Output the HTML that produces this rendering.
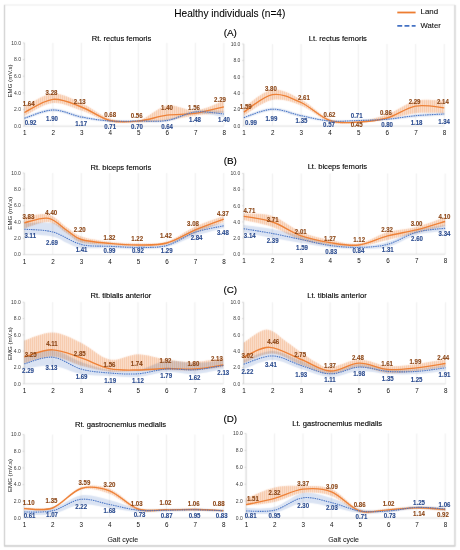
<!DOCTYPE html>
<html><head><meta charset="utf-8"><style>
html,body{margin:0;padding:0;background:#fff;width:460px;height:550px;overflow:hidden}
svg{display:block;font-family:"Liberation Sans",sans-serif;will-change:transform}
.dl{font-size:6.1px;font-weight:bold;text-anchor:middle;stroke-width:0.1px;transform-box:fill-box;transform-origin:center;transform:scaleY(1.18)}
</style></head><body>
<svg width="460" height="550" viewBox="0 0 460 550">
<defs><filter id="bl" x="0" y="0" width="460" height="550" filterUnits="userSpaceOnUse"><feConvolveMatrix order="3" kernelMatrix="1 2 1 2 14 2 1 2 1" divisor="26" edgeMode="duplicate"/></filter><pattern id="st" width="2" height="4" patternUnits="userSpaceOnUse"><rect width="2" height="4" fill="#FCE6D7"/><rect width="1" height="4" fill="#F5BF99"/></pattern></defs><g filter="url(#bl)"><rect width="460" height="550" fill="#fff"/><rect x="4.5" y="5" width="450" height="540.5" fill="none" stroke="#ececec" stroke-width="1"/>
<line x1="4.5" y1="5" x2="4.5" y2="546" stroke="#c4c4c4" stroke-width="1.1"/>
<line x1="4" y1="546" x2="455.5" y2="546" stroke="#c8c8c8" stroke-width="1.3"/>
<line x1="455" y1="5" x2="455" y2="546" stroke="#d6d6d6" stroke-width="1.6"/>
<line x1="52.9" y1="42.9" x2="52.9" y2="126.2" stroke="#ebebeb" stroke-width="0.9"/>
<line x1="81.4" y1="42.9" x2="81.4" y2="126.2" stroke="#ebebeb" stroke-width="0.9"/>
<line x1="109.9" y1="42.9" x2="109.9" y2="126.2" stroke="#ebebeb" stroke-width="0.9"/>
<line x1="138.4" y1="42.9" x2="138.4" y2="126.2" stroke="#ebebeb" stroke-width="0.9"/>
<line x1="166.9" y1="42.9" x2="166.9" y2="126.2" stroke="#ebebeb" stroke-width="0.9"/>
<line x1="195.4" y1="42.9" x2="195.4" y2="126.2" stroke="#ebebeb" stroke-width="0.9"/>
<line x1="223.9" y1="42.9" x2="223.9" y2="126.2" stroke="#ebebeb" stroke-width="0.9"/>
<line x1="24.4" y1="126.2" x2="223.9" y2="126.2" stroke="#d9d9d9" stroke-width="0.9"/>
<line x1="24.4" y1="42.9" x2="24.4" y2="126.2" stroke="#c8c8c8" stroke-width="0.9"/>
<line x1="22.9" y1="126.2" x2="24.4" y2="126.2" stroke="#c8c8c8" stroke-width="0.8"/>
<line x1="22.9" y1="109.54" x2="24.4" y2="109.54" stroke="#c8c8c8" stroke-width="0.8"/>
<line x1="22.9" y1="92.88" x2="24.4" y2="92.88" stroke="#c8c8c8" stroke-width="0.8"/>
<line x1="22.9" y1="76.22" x2="24.4" y2="76.22" stroke="#c8c8c8" stroke-width="0.8"/>
<line x1="22.9" y1="59.56" x2="24.4" y2="59.56" stroke="#c8c8c8" stroke-width="0.8"/>
<line x1="22.9" y1="42.9" x2="24.4" y2="42.9" stroke="#c8c8c8" stroke-width="0.8"/>
<path d="M24.4 116.8C29.15 115.42 43.4 108.72 52.9 108.5C62.4 108.28 71.9 113.58 81.4 115.5C90.9 117.42 100.4 119.25 109.9 120C119.4 120.75 128.9 120.12 138.4 120C147.9 119.88 157.4 120.88 166.9 119.3C176.4 117.72 185.9 111.88 195.4 110.5C204.9 109.12 219.15 110.92 223.9 111L223.9 117C219.15 116.42 204.9 112.72 195.4 113.5C185.9 114.28 176.4 120.28 166.9 121.7C157.4 123.12 147.9 121.95 138.4 122C128.9 122.05 119.4 122.58 109.9 122C100.4 121.42 90.9 120.25 81.4 118.5C71.9 116.75 62.4 111.28 52.9 111.5C43.4 111.72 29.15 118.42 24.4 119.8Z" fill="#DAE3F3" style="mix-blend-mode:multiply"/>
<path d="M24.4 106.5C29.15 104.33 43.4 94.08 52.9 93.5C62.4 92.92 71.9 98.83 81.4 103C90.9 107.17 100.4 115.58 109.9 118.5C119.4 121.42 128.9 122.65 138.4 120.5C147.9 118.35 157.4 107.27 166.9 105.6C176.4 103.93 185.9 111.3 195.4 110.5C204.9 109.7 219.15 102.42 223.9 100.8L223.9 112.8C219.15 113.25 204.9 114.22 195.4 115.5C185.9 116.78 176.4 119.33 166.9 120.5C157.4 121.67 147.9 122.25 138.4 122.5C128.9 122.75 119.4 124 109.9 122C100.4 120 90.9 113.67 81.4 110.5C71.9 107.33 62.4 102.08 52.9 103C43.4 103.92 29.15 113.83 24.4 116Z" fill="url(#st)" style="mix-blend-mode:multiply"/>
<line x1="272.44" y1="44" x2="272.44" y2="126.1" stroke="#ebebeb" stroke-width="0.9"/>
<line x1="301.08" y1="44" x2="301.08" y2="126.1" stroke="#ebebeb" stroke-width="0.9"/>
<line x1="329.72" y1="44" x2="329.72" y2="126.1" stroke="#ebebeb" stroke-width="0.9"/>
<line x1="358.36" y1="44" x2="358.36" y2="126.1" stroke="#ebebeb" stroke-width="0.9"/>
<line x1="387" y1="44" x2="387" y2="126.1" stroke="#ebebeb" stroke-width="0.9"/>
<line x1="415.64" y1="44" x2="415.64" y2="126.1" stroke="#ebebeb" stroke-width="0.9"/>
<line x1="444.28" y1="44" x2="444.28" y2="126.1" stroke="#ebebeb" stroke-width="0.9"/>
<line x1="243.8" y1="126.1" x2="444.28" y2="126.1" stroke="#d9d9d9" stroke-width="0.9"/>
<line x1="243.8" y1="44" x2="243.8" y2="126.1" stroke="#c8c8c8" stroke-width="0.9"/>
<line x1="242.3" y1="126.1" x2="243.8" y2="126.1" stroke="#c8c8c8" stroke-width="0.8"/>
<line x1="242.3" y1="109.68" x2="243.8" y2="109.68" stroke="#c8c8c8" stroke-width="0.8"/>
<line x1="242.3" y1="93.26" x2="243.8" y2="93.26" stroke="#c8c8c8" stroke-width="0.8"/>
<line x1="242.3" y1="76.84" x2="243.8" y2="76.84" stroke="#c8c8c8" stroke-width="0.8"/>
<line x1="242.3" y1="60.42" x2="243.8" y2="60.42" stroke="#c8c8c8" stroke-width="0.8"/>
<line x1="242.3" y1="44" x2="243.8" y2="44" stroke="#c8c8c8" stroke-width="0.8"/>
<path d="M243.8 116.1C248.57 114.7 262.89 108.02 272.44 107.7C281.99 107.38 291.53 112.15 301.08 114.2C310.63 116.25 320.17 119.12 329.72 120C339.27 120.88 348.81 119.78 358.36 119.5C367.91 119.22 377.45 119.18 387 118.3C396.55 117.42 406.09 115.17 415.64 114.2C425.19 113.23 439.51 112.78 444.28 112.5L444.28 115.5C439.51 115.78 425.19 116.4 415.64 117.2C406.09 118 396.55 119.58 387 120.3C377.45 121.02 367.91 121.22 358.36 121.5C348.81 121.78 339.27 122.72 329.72 122C320.17 121.28 310.63 119.08 301.08 117.2C291.53 115.32 281.99 110.38 272.44 110.7C262.89 111.02 248.57 117.7 243.8 119.1Z" fill="#DAE3F3" style="mix-blend-mode:multiply"/>
<path d="M243.8 107.3C248.57 104.38 262.89 91.1 272.44 89.8C281.99 88.5 291.53 94.63 301.08 99.5C310.63 104.37 320.17 115.42 329.72 119C339.27 122.58 348.81 121.75 358.36 121C367.91 120.25 377.45 117.87 387 114.5C396.55 111.13 406.09 103.08 415.64 100.8C425.19 98.52 439.51 100.8 444.28 100.8L444.28 113.3C439.51 113.3 425.19 112.3 415.64 113.3C406.09 114.3 396.55 117.68 387 119.3C377.45 120.92 367.91 122.55 358.36 123C348.81 123.45 339.27 124.92 329.72 122C320.17 119.08 310.63 109.17 301.08 105.5C291.53 101.83 281.99 98.3 272.44 100C262.89 101.7 248.57 113.08 243.8 115.7Z" fill="url(#st)" style="mix-blend-mode:multiply"/>
<line x1="52.8" y1="173" x2="52.8" y2="254.6" stroke="#ebebeb" stroke-width="0.9"/>
<line x1="81.3" y1="173" x2="81.3" y2="254.6" stroke="#ebebeb" stroke-width="0.9"/>
<line x1="109.8" y1="173" x2="109.8" y2="254.6" stroke="#ebebeb" stroke-width="0.9"/>
<line x1="138.3" y1="173" x2="138.3" y2="254.6" stroke="#ebebeb" stroke-width="0.9"/>
<line x1="166.8" y1="173" x2="166.8" y2="254.6" stroke="#ebebeb" stroke-width="0.9"/>
<line x1="195.3" y1="173" x2="195.3" y2="254.6" stroke="#ebebeb" stroke-width="0.9"/>
<line x1="223.8" y1="173" x2="223.8" y2="254.6" stroke="#ebebeb" stroke-width="0.9"/>
<line x1="24.3" y1="254.6" x2="223.8" y2="254.6" stroke="#d9d9d9" stroke-width="0.9"/>
<line x1="24.3" y1="173" x2="24.3" y2="254.6" stroke="#c8c8c8" stroke-width="0.9"/>
<line x1="22.8" y1="254.6" x2="24.3" y2="254.6" stroke="#c8c8c8" stroke-width="0.8"/>
<line x1="22.8" y1="238.28" x2="24.3" y2="238.28" stroke="#c8c8c8" stroke-width="0.8"/>
<line x1="22.8" y1="221.96" x2="24.3" y2="221.96" stroke="#c8c8c8" stroke-width="0.8"/>
<line x1="22.8" y1="205.64" x2="24.3" y2="205.64" stroke="#c8c8c8" stroke-width="0.8"/>
<line x1="22.8" y1="189.32" x2="24.3" y2="189.32" stroke="#c8c8c8" stroke-width="0.8"/>
<line x1="22.8" y1="173" x2="24.3" y2="173" stroke="#c8c8c8" stroke-width="0.8"/>
<path d="M24.3 223C29.05 223 45.67 221.67 52.8 223C59.92 224.33 62.3 228.17 67.05 231C71.8 233.83 74.17 237.75 81.3 240C88.42 242.25 100.3 243.5 109.8 244.5C119.3 245.5 128.8 246.08 138.3 246C147.8 245.92 157.3 246.83 166.8 244C176.3 241.17 185.8 232.5 195.3 229C204.8 225.5 219.05 224 223.8 223L223.8 228C219.05 229.33 204.8 232.83 195.3 236C185.8 239.17 176.3 244.83 166.8 247C157.3 249.17 147.8 248.83 138.3 249C128.8 249.17 119.3 248.17 109.8 248C100.3 247.83 88.42 248.83 81.3 248C74.17 247.17 71.8 244.92 67.05 243C62.3 241.08 59.92 238 52.8 236.5C45.67 235 29.05 234.42 24.3 234Z" fill="#DAE3F3" style="mix-blend-mode:multiply"/>
<path d="M24.3 217C28.34 216.58 41.4 212.75 48.53 214.5C55.65 216.25 61.59 223.83 67.05 227.5C72.51 231.17 74.17 234.12 81.3 236.5C88.42 238.88 100.3 240.63 109.8 241.8C119.3 242.97 128.8 243.55 138.3 243.5C147.8 243.45 157.3 244.33 166.8 241.5C176.3 238.67 185.8 230.75 195.3 226.5C204.8 222.25 219.05 217.75 223.8 216L223.8 222C219.05 223.83 204.8 229.25 195.3 233C185.8 236.75 176.3 242.25 166.8 244.5C157.3 246.75 147.8 246.42 138.3 246.5C128.8 246.58 119.3 245.67 109.8 245C100.3 244.33 88.42 244.42 81.3 242.5C74.17 240.58 72.51 236.92 67.05 233.5C61.59 230.08 55.65 222.83 48.53 222C41.4 221.17 28.34 227.42 24.3 228.5Z" fill="url(#st)" style="mix-blend-mode:multiply"/>
<line x1="272.48" y1="173.5" x2="272.48" y2="254.2" stroke="#ebebeb" stroke-width="0.9"/>
<line x1="301.26" y1="173.5" x2="301.26" y2="254.2" stroke="#ebebeb" stroke-width="0.9"/>
<line x1="330.04" y1="173.5" x2="330.04" y2="254.2" stroke="#ebebeb" stroke-width="0.9"/>
<line x1="358.82" y1="173.5" x2="358.82" y2="254.2" stroke="#ebebeb" stroke-width="0.9"/>
<line x1="387.6" y1="173.5" x2="387.6" y2="254.2" stroke="#ebebeb" stroke-width="0.9"/>
<line x1="416.38" y1="173.5" x2="416.38" y2="254.2" stroke="#ebebeb" stroke-width="0.9"/>
<line x1="445.16" y1="173.5" x2="445.16" y2="254.2" stroke="#ebebeb" stroke-width="0.9"/>
<line x1="243.7" y1="254.2" x2="445.16" y2="254.2" stroke="#d9d9d9" stroke-width="0.9"/>
<line x1="243.7" y1="173.5" x2="243.7" y2="254.2" stroke="#c8c8c8" stroke-width="0.9"/>
<line x1="242.2" y1="254.2" x2="243.7" y2="254.2" stroke="#c8c8c8" stroke-width="0.8"/>
<line x1="242.2" y1="238.06" x2="243.7" y2="238.06" stroke="#c8c8c8" stroke-width="0.8"/>
<line x1="242.2" y1="221.92" x2="243.7" y2="221.92" stroke="#c8c8c8" stroke-width="0.8"/>
<line x1="242.2" y1="205.78" x2="243.7" y2="205.78" stroke="#c8c8c8" stroke-width="0.8"/>
<line x1="242.2" y1="189.64" x2="243.7" y2="189.64" stroke="#c8c8c8" stroke-width="0.8"/>
<line x1="242.2" y1="173.5" x2="243.7" y2="173.5" stroke="#c8c8c8" stroke-width="0.8"/>
<path d="M243.7 225.1C248.5 225.75 262.89 227.18 272.48 229C282.07 230.82 291.67 233.58 301.26 236C310.85 238.42 320.45 241.83 330.04 243.5C339.63 245.17 349.23 246.25 358.82 246C368.41 245.75 378.01 244.67 387.6 242C397.19 239.33 406.79 232.83 416.38 230C425.97 227.17 440.36 225.83 445.16 225L445.16 231C440.36 231.67 425.97 232.33 416.38 235C406.79 237.67 397.19 244.67 387.6 247C378.01 249.33 368.41 248.92 358.82 249C349.23 249.08 339.63 248.5 330.04 247.5C320.45 246.5 310.85 244.58 301.26 243C291.67 241.42 282.07 239.78 272.48 238C262.89 236.22 248.5 233.25 243.7 232.3Z" fill="#DAE3F3" style="mix-blend-mode:multiply"/>
<path d="M243.7 213.2C248.5 213.67 262.89 212.87 272.48 216C282.07 219.13 291.67 228 301.26 232C310.85 236 320.45 238.08 330.04 240C339.63 241.92 349.23 244.83 358.82 243.5C368.41 242.17 378.01 234.75 387.6 232C397.19 229.25 406.79 229.5 416.38 227C425.97 224.5 440.36 218.67 445.16 217L445.16 226C440.36 227.17 425.97 230.67 416.38 233C406.79 235.33 397.19 237.75 387.6 240C378.01 242.25 368.41 245.67 358.82 246.5C349.23 247.33 339.63 246.08 330.04 245C320.45 243.92 310.85 243 301.26 240C291.67 237 282.07 230.35 272.48 227C262.89 223.65 248.5 221.08 243.7 219.9Z" fill="url(#st)" style="mix-blend-mode:multiply"/>
<line x1="52.65" y1="302.2" x2="52.65" y2="383.8" stroke="#ebebeb" stroke-width="0.9"/>
<line x1="81.1" y1="302.2" x2="81.1" y2="383.8" stroke="#ebebeb" stroke-width="0.9"/>
<line x1="109.55" y1="302.2" x2="109.55" y2="383.8" stroke="#ebebeb" stroke-width="0.9"/>
<line x1="138" y1="302.2" x2="138" y2="383.8" stroke="#ebebeb" stroke-width="0.9"/>
<line x1="166.45" y1="302.2" x2="166.45" y2="383.8" stroke="#ebebeb" stroke-width="0.9"/>
<line x1="194.9" y1="302.2" x2="194.9" y2="383.8" stroke="#ebebeb" stroke-width="0.9"/>
<line x1="223.35" y1="302.2" x2="223.35" y2="383.8" stroke="#ebebeb" stroke-width="0.9"/>
<line x1="24.2" y1="383.8" x2="223.35" y2="383.8" stroke="#d9d9d9" stroke-width="0.9"/>
<line x1="24.2" y1="302.2" x2="24.2" y2="383.8" stroke="#c8c8c8" stroke-width="0.9"/>
<line x1="22.7" y1="383.8" x2="24.2" y2="383.8" stroke="#c8c8c8" stroke-width="0.8"/>
<line x1="22.7" y1="367.48" x2="24.2" y2="367.48" stroke="#c8c8c8" stroke-width="0.8"/>
<line x1="22.7" y1="351.16" x2="24.2" y2="351.16" stroke="#c8c8c8" stroke-width="0.8"/>
<line x1="22.7" y1="334.84" x2="24.2" y2="334.84" stroke="#c8c8c8" stroke-width="0.8"/>
<line x1="22.7" y1="318.52" x2="24.2" y2="318.52" stroke="#c8c8c8" stroke-width="0.8"/>
<line x1="22.7" y1="302.2" x2="24.2" y2="302.2" stroke="#c8c8c8" stroke-width="0.8"/>
<path d="M24.2 356.5C28.94 355.42 43.17 349.08 52.65 350C62.13 350.92 71.62 358.67 81.1 362C90.58 365.33 100.07 368.67 109.55 370C119.03 371.33 128.52 371.55 138 370C147.48 368.45 156.97 361.87 166.45 360.7C175.93 359.53 185.42 363.12 194.9 363C204.38 362.88 218.61 360.5 223.35 360L223.35 369C218.61 369.83 204.38 373.5 194.9 374C185.42 374.5 175.93 371.5 166.45 372C156.97 372.5 147.48 376.33 138 377C128.52 377.67 119.03 376.5 109.55 376C100.07 375.5 90.58 375.72 81.1 374C71.62 372.28 62.13 366.52 52.65 365.7C43.17 364.88 28.94 368.53 24.2 369.1Z" fill="#DAE3F3" style="mix-blend-mode:multiply"/>
<path d="M24.2 340.5C28.94 339.18 43.17 332.22 52.65 332.6C62.13 332.98 71.62 338.32 81.1 342.8C90.58 347.28 100.07 357.6 109.55 359.5C119.03 361.4 128.52 354.2 138 354.2C147.48 354.2 156.97 358.22 166.45 359.5C175.93 360.78 185.42 362.18 194.9 361.9C204.38 361.62 218.61 358.48 223.35 357.8L223.35 367C218.61 367.58 204.38 370 194.9 370.5C185.42 371 175.93 369.92 166.45 370C156.97 370.08 147.48 370.77 138 371C128.52 371.23 119.03 372.28 109.55 371.4C100.07 370.52 90.58 368.18 81.1 365.7C71.62 363.22 62.13 356.88 52.65 356.5C43.17 356.12 28.94 362.25 24.2 363.4Z" fill="url(#st)" style="mix-blend-mode:multiply"/>
<line x1="272.45" y1="302.3" x2="272.45" y2="383.9" stroke="#ebebeb" stroke-width="0.9"/>
<line x1="301.3" y1="302.3" x2="301.3" y2="383.9" stroke="#ebebeb" stroke-width="0.9"/>
<line x1="330.15" y1="302.3" x2="330.15" y2="383.9" stroke="#ebebeb" stroke-width="0.9"/>
<line x1="359" y1="302.3" x2="359" y2="383.9" stroke="#ebebeb" stroke-width="0.9"/>
<line x1="387.85" y1="302.3" x2="387.85" y2="383.9" stroke="#ebebeb" stroke-width="0.9"/>
<line x1="416.7" y1="302.3" x2="416.7" y2="383.9" stroke="#ebebeb" stroke-width="0.9"/>
<line x1="445.55" y1="302.3" x2="445.55" y2="383.9" stroke="#ebebeb" stroke-width="0.9"/>
<line x1="243.6" y1="383.9" x2="445.55" y2="383.9" stroke="#d9d9d9" stroke-width="0.9"/>
<line x1="243.6" y1="302.3" x2="243.6" y2="383.9" stroke="#c8c8c8" stroke-width="0.9"/>
<line x1="242.1" y1="383.9" x2="243.6" y2="383.9" stroke="#c8c8c8" stroke-width="0.8"/>
<line x1="242.1" y1="367.58" x2="243.6" y2="367.58" stroke="#c8c8c8" stroke-width="0.8"/>
<line x1="242.1" y1="351.26" x2="243.6" y2="351.26" stroke="#c8c8c8" stroke-width="0.8"/>
<line x1="242.1" y1="334.94" x2="243.6" y2="334.94" stroke="#c8c8c8" stroke-width="0.8"/>
<line x1="242.1" y1="318.62" x2="243.6" y2="318.62" stroke="#c8c8c8" stroke-width="0.8"/>
<line x1="242.1" y1="302.3" x2="243.6" y2="302.3" stroke="#c8c8c8" stroke-width="0.8"/>
<path d="M243.6 360C248.41 358.5 262.83 350.83 272.45 351C282.07 351.17 291.68 357.67 301.3 361C310.92 364.33 320.53 370.5 330.15 371C339.77 371.5 349.38 364.33 359 364C368.62 363.67 378.23 368.17 387.85 369C397.47 369.83 407.08 369.67 416.7 369C426.32 368.33 440.74 365.67 445.55 365L445.55 371C440.74 371.5 426.32 373.5 416.7 374C407.08 374.5 397.47 374.5 387.85 374C378.23 373.5 368.62 370.5 359 371C349.38 371.5 339.77 377.33 330.15 377C320.53 376.67 310.92 371.83 301.3 369C291.68 366.17 282.07 360 272.45 360C262.83 360 248.41 367.5 243.6 369Z" fill="#DAE3F3" style="mix-blend-mode:multiply"/>
<path d="M243.6 342.7C247.45 340.5 259.47 329.62 266.68 329.5C273.89 329.38 281.11 338.17 286.88 342C292.64 345.83 296.49 349.17 301.3 352.5C306.11 355.83 310.92 359.5 315.73 362C320.53 364.5 322.94 367.92 330.15 367.5C337.36 367.08 349.38 359.75 359 359.5C368.62 359.25 378.23 365.25 387.85 366C397.47 366.75 407.08 365.17 416.7 364C426.32 362.83 440.74 359.83 445.55 359L445.55 367C440.74 367.67 426.32 370 416.7 371C407.08 372 397.47 373.67 387.85 373C378.23 372.33 368.62 366.83 359 367C349.38 367.17 339.77 374.33 330.15 374C320.53 373.67 310.92 368.42 301.3 365C291.68 361.58 282.07 353.82 272.45 353.5C262.83 353.18 248.41 361.5 243.6 363.1Z" fill="url(#st)" style="mix-blend-mode:multiply"/>
<line x1="52.57" y1="434.6" x2="52.57" y2="517.9" stroke="#ebebeb" stroke-width="0.9"/>
<line x1="81.04" y1="434.6" x2="81.04" y2="517.9" stroke="#ebebeb" stroke-width="0.9"/>
<line x1="109.51" y1="434.6" x2="109.51" y2="517.9" stroke="#ebebeb" stroke-width="0.9"/>
<line x1="137.98" y1="434.6" x2="137.98" y2="517.9" stroke="#ebebeb" stroke-width="0.9"/>
<line x1="166.45" y1="434.6" x2="166.45" y2="517.9" stroke="#ebebeb" stroke-width="0.9"/>
<line x1="194.92" y1="434.6" x2="194.92" y2="517.9" stroke="#ebebeb" stroke-width="0.9"/>
<line x1="223.39" y1="434.6" x2="223.39" y2="517.9" stroke="#ebebeb" stroke-width="0.9"/>
<line x1="24.1" y1="517.9" x2="223.39" y2="517.9" stroke="#d9d9d9" stroke-width="0.9"/>
<line x1="24.1" y1="434.6" x2="24.1" y2="517.9" stroke="#c8c8c8" stroke-width="0.9"/>
<line x1="22.6" y1="517.9" x2="24.1" y2="517.9" stroke="#c8c8c8" stroke-width="0.8"/>
<line x1="22.6" y1="501.24" x2="24.1" y2="501.24" stroke="#c8c8c8" stroke-width="0.8"/>
<line x1="22.6" y1="484.58" x2="24.1" y2="484.58" stroke="#c8c8c8" stroke-width="0.8"/>
<line x1="22.6" y1="467.92" x2="24.1" y2="467.92" stroke="#c8c8c8" stroke-width="0.8"/>
<line x1="22.6" y1="451.26" x2="24.1" y2="451.26" stroke="#c8c8c8" stroke-width="0.8"/>
<line x1="22.6" y1="434.6" x2="24.1" y2="434.6" stroke="#c8c8c8" stroke-width="0.8"/>
<path d="M24.1 510C28.85 509.67 43.08 510.43 52.57 508C62.06 505.57 71.55 496.73 81.04 495.4C90.53 494.07 100.02 497.82 109.51 500C119 502.18 128.49 507 137.98 508.5C147.47 510 156.96 509 166.45 509C175.94 509 185.43 508.42 194.92 508.5C204.41 508.58 218.64 509.33 223.39 509.5L223.39 512C218.64 511.83 204.41 511.08 194.92 511C185.43 510.92 175.94 511.33 166.45 511.5C156.96 511.67 147.47 512.58 137.98 512C128.49 511.42 119 509.25 109.51 508C100.02 506.75 90.53 503.5 81.04 504.5C71.55 505.5 62.06 512.25 52.57 514C43.08 515.75 28.85 514.83 24.1 515Z" fill="#DAE3F3" style="mix-blend-mode:multiply"/>
<path d="M24.1 507.6C28.85 507.5 43.08 510.38 52.57 507C62.06 503.62 71.55 490.33 81.04 487.3C90.53 484.27 100.02 485.43 109.51 488.8C119 492.17 128.49 504.17 137.98 507.5C147.47 510.83 156.96 508.63 166.45 508.8C175.94 508.97 185.43 508.35 194.92 508.5C204.41 508.65 218.64 509.5 223.39 509.7L223.39 511.7C218.64 511.5 204.41 510.65 194.92 510.5C185.43 510.35 175.94 510.8 166.45 510.8C156.96 510.8 147.47 513.33 137.98 510.5C128.49 507.67 119 497.27 109.51 493.8C100.02 490.33 90.53 487.17 81.04 489.7C71.55 492.23 62.06 505.68 52.57 509C43.08 512.32 28.85 509.5 24.1 509.6Z" fill="url(#st)" style="mix-blend-mode:multiply"/>
<line x1="274.55" y1="433.5" x2="274.55" y2="518" stroke="#ebebeb" stroke-width="0.9"/>
<line x1="303" y1="433.5" x2="303" y2="518" stroke="#ebebeb" stroke-width="0.9"/>
<line x1="331.45" y1="433.5" x2="331.45" y2="518" stroke="#ebebeb" stroke-width="0.9"/>
<line x1="359.9" y1="433.5" x2="359.9" y2="518" stroke="#ebebeb" stroke-width="0.9"/>
<line x1="388.35" y1="433.5" x2="388.35" y2="518" stroke="#ebebeb" stroke-width="0.9"/>
<line x1="416.8" y1="433.5" x2="416.8" y2="518" stroke="#ebebeb" stroke-width="0.9"/>
<line x1="445.25" y1="433.5" x2="445.25" y2="518" stroke="#ebebeb" stroke-width="0.9"/>
<line x1="246.1" y1="518" x2="445.25" y2="518" stroke="#d9d9d9" stroke-width="0.9"/>
<line x1="246.1" y1="433.5" x2="246.1" y2="518" stroke="#c8c8c8" stroke-width="0.9"/>
<line x1="244.6" y1="518" x2="246.1" y2="518" stroke="#c8c8c8" stroke-width="0.8"/>
<line x1="244.6" y1="501.1" x2="246.1" y2="501.1" stroke="#c8c8c8" stroke-width="0.8"/>
<line x1="244.6" y1="484.2" x2="246.1" y2="484.2" stroke="#c8c8c8" stroke-width="0.8"/>
<line x1="244.6" y1="467.3" x2="246.1" y2="467.3" stroke="#c8c8c8" stroke-width="0.8"/>
<line x1="244.6" y1="450.4" x2="246.1" y2="450.4" stroke="#c8c8c8" stroke-width="0.8"/>
<line x1="244.6" y1="433.5" x2="246.1" y2="433.5" stroke="#c8c8c8" stroke-width="0.8"/>
<path d="M246.1 508C250.84 507.83 265.07 509.5 274.55 507C284.03 504.5 293.52 494.5 303 493C312.48 491.5 321.97 495.33 331.45 498C340.93 500.67 350.42 507.08 359.9 509C369.38 510.92 378.87 510 388.35 509.5C397.83 509 407.32 506.33 416.8 506C426.28 505.67 440.51 507.25 445.25 507.5L445.25 510.5C440.51 510.25 426.28 508.67 416.8 509C407.32 509.33 397.83 511.83 388.35 512.5C378.87 513.17 369.38 513.92 359.9 513C350.42 512.08 340.93 508.67 331.45 507C321.97 505.33 312.48 502 303 503C293.52 504 284.03 511.17 274.55 513C265.07 514.83 250.84 513.83 246.1 514Z" fill="#DAE3F3" style="mix-blend-mode:multiply"/>
<path d="M246.1 498.3C250.84 496.5 265.07 489.55 274.55 487.5C284.03 485.45 293.52 485.75 303 486C312.48 486.25 321.97 485.08 331.45 489C340.93 492.92 350.42 506.25 359.9 509.5C369.38 512.75 378.87 509 388.35 508.5C397.83 508 407.32 506.58 416.8 506.5C426.28 506.42 440.51 507.75 445.25 508L445.25 511C440.51 510.67 426.28 509 416.8 509C407.32 509 397.83 510.42 388.35 511C378.87 511.58 369.38 515 359.9 512.5C350.42 510 340.93 499.25 331.45 496C321.97 492.75 312.48 492.02 303 493C293.52 493.98 284.03 499.82 274.55 501.9C265.07 503.98 250.84 504.9 246.1 505.5Z" fill="url(#st)" style="mix-blend-mode:multiply"/></g>
<g><text x="229.8" y="17.4" font-size="10.15" text-anchor="middle" fill="#000" stroke="#000" stroke-width="0.05">Healthy individuals (n=4)</text>
<line x1="397.3" y1="12.5" x2="415.6" y2="12.5" stroke="#ED7D31" stroke-width="1.8"/>
<line x1="397.3" y1="25.9" x2="415.6" y2="25.9" stroke="#4472C4" stroke-width="1.8" stroke-dasharray="4.9 2.3"/>
<text x="420.6" y="14.4" font-size="7.9" fill="#111" stroke="#111" stroke-width="0.1">Land</text>
<text x="420.6" y="28.0" font-size="7.7" fill="#111" stroke="#111" stroke-width="0.1">Water</text>
<text x="230.3" y="35.9" font-size="9.9" text-anchor="middle" fill="#000" stroke="#000" stroke-width="0.14">(A)</text>
<text x="230.3" y="164.4" font-size="9.9" text-anchor="middle" fill="#000" stroke="#000" stroke-width="0.14">(B)</text>
<text x="230.3" y="293.3" font-size="9.9" text-anchor="middle" fill="#000" stroke="#000" stroke-width="0.14">(C)</text>
<text x="230.3" y="421.5" font-size="9.9" text-anchor="middle" fill="#000" stroke="#000" stroke-width="0.14">(D)</text>
<text x="21" y="128" font-size="5" text-anchor="end" fill="#3a3a3a">0.0</text>
<text x="21" y="111.34" font-size="5" text-anchor="end" fill="#3a3a3a">2.0</text>
<text x="21" y="94.68" font-size="5" text-anchor="end" fill="#3a3a3a">4.0</text>
<text x="21" y="78.02" font-size="5" text-anchor="end" fill="#3a3a3a">6.0</text>
<text x="21" y="61.36" font-size="5" text-anchor="end" fill="#3a3a3a">8.0</text>
<text x="21" y="44.7" font-size="5" text-anchor="end" fill="#3a3a3a">10.0</text>
<text x="24.7" y="135.1" font-size="6.3" text-anchor="middle" fill="#111">1</text>
<text x="53.2" y="135.1" font-size="6.3" text-anchor="middle" fill="#111">2</text>
<text x="81.7" y="135.1" font-size="6.3" text-anchor="middle" fill="#111">3</text>
<text x="110.2" y="135.1" font-size="6.3" text-anchor="middle" fill="#111">4</text>
<text x="138.7" y="135.1" font-size="6.3" text-anchor="middle" fill="#111">5</text>
<text x="167.2" y="135.1" font-size="6.3" text-anchor="middle" fill="#111">6</text>
<text x="195.7" y="135.1" font-size="6.3" text-anchor="middle" fill="#111">7</text>
<text x="224.2" y="135.1" font-size="6.3" text-anchor="middle" fill="#111">8</text>
<text transform="translate(11.7 81) rotate(-90)" font-size="6.1" text-anchor="middle" fill="#222">EMG (mV.s)</text>
<text x="121.5" y="41.3" font-size="7.6" text-anchor="middle" fill="#000" stroke="#000" stroke-width="0.12">Rt. rectus femoris</text>
<path d="M24.4 112.5C29.15 110.3 43.4 100.22 52.9 99.3C62.4 98.38 71.9 103.47 81.4 107C90.9 110.53 100.4 118.17 109.9 120.5C119.4 122.83 128.9 121.88 138.4 121C147.9 120.12 157.4 116.48 166.9 115.2C176.4 113.92 185.9 114.7 195.4 113.3C204.9 111.9 219.15 107.88 223.9 106.8" fill="none" stroke="#ED7D31" stroke-width="1.35" stroke-opacity="0.95"/>
<path d="M24.4 118.3C29.15 116.92 43.4 110.22 52.9 110C62.4 109.78 71.9 115.17 81.4 117C90.9 118.83 100.4 120.33 109.9 121C119.4 121.67 128.9 121.08 138.4 121C147.9 120.92 157.4 122 166.9 120.5C176.4 119 185.9 113.08 195.4 112C204.9 110.92 219.15 113.67 223.9 114" fill="none" stroke="#4472C4" stroke-width="1.05" stroke-dasharray="1.5 0.8" stroke-opacity="0.95"/>
<text x="28.7" y="105.6" class="dl" fill="#8C4616" stroke="#8C4616">1.64</text>
<text x="51.5" y="94.2" class="dl" fill="#8C4616" stroke="#8C4616">3.28</text>
<text x="79.8" y="104.1" class="dl" fill="#8C4616" stroke="#8C4616">2.13</text>
<text x="110.2" y="116.4" class="dl" fill="#8C4616" stroke="#8C4616">0.68</text>
<text x="136.7" y="117.8" class="dl" fill="#8C4616" stroke="#8C4616">0.56</text>
<text x="167" y="109.4" class="dl" fill="#8C4616" stroke="#8C4616">1.40</text>
<text x="194" y="109.7" class="dl" fill="#8C4616" stroke="#8C4616">1.56</text>
<text x="220" y="102.1" class="dl" fill="#8C4616" stroke="#8C4616">2.29</text>
<text x="30.6" y="124.7" class="dl" fill="#2A4B8F" stroke="#2A4B8F">0.92</text>
<text x="52" y="120.5" class="dl" fill="#2A4B8F" stroke="#2A4B8F">1.90</text>
<text x="81.2" y="125.5" class="dl" fill="#2A4B8F" stroke="#2A4B8F">1.17</text>
<text x="110.2" y="128.5" class="dl" fill="#2A4B8F" stroke="#2A4B8F">0.71</text>
<text x="137" y="128.1" class="dl" fill="#2A4B8F" stroke="#2A4B8F">0.70</text>
<text x="167.1" y="128.1" class="dl" fill="#2A4B8F" stroke="#2A4B8F">0.64</text>
<text x="195" y="121.4" class="dl" fill="#2A4B8F" stroke="#2A4B8F">1.48</text>
<text x="224" y="122.1" class="dl" fill="#2A4B8F" stroke="#2A4B8F">1.40</text>
<text x="240.4" y="127.9" font-size="5" text-anchor="end" fill="#3a3a3a">0.0</text>
<text x="240.4" y="111.48" font-size="5" text-anchor="end" fill="#3a3a3a">2.0</text>
<text x="240.4" y="95.06" font-size="5" text-anchor="end" fill="#3a3a3a">4.0</text>
<text x="240.4" y="78.64" font-size="5" text-anchor="end" fill="#3a3a3a">6.0</text>
<text x="240.4" y="62.22" font-size="5" text-anchor="end" fill="#3a3a3a">8.0</text>
<text x="240.4" y="45.8" font-size="5" text-anchor="end" fill="#3a3a3a">10.0</text>
<text x="244.1" y="135" font-size="6.3" text-anchor="middle" fill="#111">1</text>
<text x="272.74" y="135" font-size="6.3" text-anchor="middle" fill="#111">2</text>
<text x="301.38" y="135" font-size="6.3" text-anchor="middle" fill="#111">3</text>
<text x="330.02" y="135" font-size="6.3" text-anchor="middle" fill="#111">4</text>
<text x="358.66" y="135" font-size="6.3" text-anchor="middle" fill="#111">5</text>
<text x="387.3" y="135" font-size="6.3" text-anchor="middle" fill="#111">6</text>
<text x="415.94" y="135" font-size="6.3" text-anchor="middle" fill="#111">7</text>
<text x="444.58" y="135" font-size="6.3" text-anchor="middle" fill="#111">8</text>
<text x="337.8" y="41.3" font-size="7.6" text-anchor="middle" fill="#000" stroke="#000" stroke-width="0.12">Lt. rectus femoris</text>
<path d="M243.8 112.1C248.57 109.18 262.89 96.2 272.44 94.6C281.99 93 291.53 98.18 301.08 102.5C310.63 106.82 320.17 117.23 329.72 120.5C339.27 123.77 348.81 122.52 358.36 122.1C367.91 121.68 377.45 120.67 387 118C396.55 115.33 406.09 107.8 415.64 106.1C425.19 104.4 439.51 107.52 444.28 107.8" fill="none" stroke="#ED7D31" stroke-width="1.35" stroke-opacity="0.95"/>
<path d="M243.8 117.6C248.57 116.2 262.89 109.52 272.44 109.2C281.99 108.88 291.53 113.73 301.08 115.7C310.63 117.67 320.17 120.2 329.72 121C339.27 121.8 348.81 120.78 358.36 120.5C367.91 120.22 377.45 120.1 387 119.3C396.55 118.5 406.09 116.58 415.64 115.7C425.19 114.82 439.51 114.28 444.28 114" fill="none" stroke="#4472C4" stroke-width="1.05" stroke-dasharray="1.5 0.8" stroke-opacity="0.95"/>
<text x="245.8" y="108.7" class="dl" fill="#8C4616" stroke="#8C4616">1.59</text>
<text x="270.9" y="90.7" class="dl" fill="#8C4616" stroke="#8C4616">3.80</text>
<text x="303.9" y="99.8" class="dl" fill="#8C4616" stroke="#8C4616">2.61</text>
<text x="329.5" y="116.6" class="dl" fill="#8C4616" stroke="#8C4616">0.62</text>
<text x="356.7" y="126.1" class="dl" fill="#8C4616" stroke="#8C4616">0.45</text>
<text x="385.9" y="114.2" class="dl" fill="#8C4616" stroke="#8C4616">0.86</text>
<text x="414.6" y="103.4" class="dl" fill="#8C4616" stroke="#8C4616">2.29</text>
<text x="442.9" y="103.4" class="dl" fill="#8C4616" stroke="#8C4616">2.14</text>
<text x="251" y="124.9" class="dl" fill="#2A4B8F" stroke="#2A4B8F">0.99</text>
<text x="271.4" y="120.6" class="dl" fill="#2A4B8F" stroke="#2A4B8F">1.99</text>
<text x="301.5" y="122.6" class="dl" fill="#2A4B8F" stroke="#2A4B8F">1.35</text>
<text x="329" y="126.1" class="dl" fill="#2A4B8F" stroke="#2A4B8F">0.57</text>
<text x="356.7" y="117.8" class="dl" fill="#2A4B8F" stroke="#2A4B8F">0.71</text>
<text x="387.1" y="126.1" class="dl" fill="#2A4B8F" stroke="#2A4B8F">0.80</text>
<text x="416.6" y="124.9" class="dl" fill="#2A4B8F" stroke="#2A4B8F">1.18</text>
<text x="444.1" y="123.3" class="dl" fill="#2A4B8F" stroke="#2A4B8F">1.34</text>
<text x="20.9" y="256.4" font-size="5" text-anchor="end" fill="#3a3a3a">0.0</text>
<text x="20.9" y="240.08" font-size="5" text-anchor="end" fill="#3a3a3a">2.0</text>
<text x="20.9" y="223.76" font-size="5" text-anchor="end" fill="#3a3a3a">4.0</text>
<text x="20.9" y="207.44" font-size="5" text-anchor="end" fill="#3a3a3a">6.0</text>
<text x="20.9" y="191.12" font-size="5" text-anchor="end" fill="#3a3a3a">8.0</text>
<text x="20.9" y="174.8" font-size="5" text-anchor="end" fill="#3a3a3a">10.0</text>
<text x="24.6" y="263.5" font-size="6.3" text-anchor="middle" fill="#111">1</text>
<text x="53.1" y="263.5" font-size="6.3" text-anchor="middle" fill="#111">2</text>
<text x="81.6" y="263.5" font-size="6.3" text-anchor="middle" fill="#111">3</text>
<text x="110.1" y="263.5" font-size="6.3" text-anchor="middle" fill="#111">4</text>
<text x="138.6" y="263.5" font-size="6.3" text-anchor="middle" fill="#111">5</text>
<text x="167.1" y="263.5" font-size="6.3" text-anchor="middle" fill="#111">6</text>
<text x="195.6" y="263.5" font-size="6.3" text-anchor="middle" fill="#111">7</text>
<text x="224.1" y="263.5" font-size="6.3" text-anchor="middle" fill="#111">8</text>
<text transform="translate(11.7 213.2) rotate(-90)" font-size="6.1" text-anchor="middle" fill="#222">EMG (mV.s)</text>
<text x="120.8" y="170" font-size="7.6" text-anchor="middle" fill="#000" stroke="#000" stroke-width="0.12">Rt. biceps femoris</text>
<path d="M24.3 222.8C28.34 222.05 41.4 217.02 48.53 218.3C55.65 219.58 61.59 226.97 67.05 230.5C72.51 234.03 74.17 237.35 81.3 239.5C88.42 241.65 100.3 242.48 109.8 243.4C119.3 244.32 128.8 245.07 138.3 245C147.8 244.93 157.3 245.52 166.8 243C176.3 240.48 185.8 233.88 195.3 229.9C204.8 225.92 219.05 220.9 223.8 219.1" fill="none" stroke="#ED7D31" stroke-width="1.35" stroke-opacity="0.95"/>
<path d="M24.3 229.2C29.05 229.67 43.3 229.45 52.8 232C62.3 234.55 71.8 242.12 81.3 244.5C90.8 246.88 100.3 245.82 109.8 246.3C119.3 246.78 128.8 247.53 138.3 247.4C147.8 247.27 157.3 248.02 166.8 245.5C176.3 242.98 185.8 235.58 195.3 232.3C204.8 229.02 219.05 226.88 223.8 225.8" fill="none" stroke="#4472C4" stroke-width="1.05" stroke-dasharray="1.5 0.8" stroke-opacity="0.95"/>
<text x="28.4" y="218.5" class="dl" fill="#8C4616" stroke="#8C4616">3.83</text>
<text x="51.3" y="214.2" class="dl" fill="#8C4616" stroke="#8C4616">4.40</text>
<text x="79.8" y="231.3" class="dl" fill="#8C4616" stroke="#8C4616">2.20</text>
<text x="109.5" y="239.8" class="dl" fill="#8C4616" stroke="#8C4616">1.32</text>
<text x="137.2" y="240.4" class="dl" fill="#8C4616" stroke="#8C4616">1.22</text>
<text x="165.9" y="238" class="dl" fill="#8C4616" stroke="#8C4616">1.42</text>
<text x="193" y="226" class="dl" fill="#8C4616" stroke="#8C4616">3.08</text>
<text x="222.9" y="215.7" class="dl" fill="#8C4616" stroke="#8C4616">4.37</text>
<text x="30.3" y="237.5" class="dl" fill="#2A4B8F" stroke="#2A4B8F">3.11</text>
<text x="52" y="244.3" class="dl" fill="#2A4B8F" stroke="#2A4B8F">2.69</text>
<text x="81.6" y="251.2" class="dl" fill="#2A4B8F" stroke="#2A4B8F">1.41</text>
<text x="109.5" y="252.8" class="dl" fill="#2A4B8F" stroke="#2A4B8F">0.99</text>
<text x="137.9" y="252.8" class="dl" fill="#2A4B8F" stroke="#2A4B8F">0.92</text>
<text x="166.7" y="252.3" class="dl" fill="#2A4B8F" stroke="#2A4B8F">1.29</text>
<text x="196.6" y="239.2" class="dl" fill="#2A4B8F" stroke="#2A4B8F">2.84</text>
<text x="222.9" y="234.4" class="dl" fill="#2A4B8F" stroke="#2A4B8F">3.48</text>
<text x="240.3" y="256" font-size="5" text-anchor="end" fill="#3a3a3a">0.0</text>
<text x="240.3" y="239.86" font-size="5" text-anchor="end" fill="#3a3a3a">2.0</text>
<text x="240.3" y="223.72" font-size="5" text-anchor="end" fill="#3a3a3a">4.0</text>
<text x="240.3" y="207.58" font-size="5" text-anchor="end" fill="#3a3a3a">6.0</text>
<text x="240.3" y="191.44" font-size="5" text-anchor="end" fill="#3a3a3a">8.0</text>
<text x="240.3" y="175.3" font-size="5" text-anchor="end" fill="#3a3a3a">10.0</text>
<text x="244" y="263.1" font-size="6.3" text-anchor="middle" fill="#111">1</text>
<text x="272.78" y="263.1" font-size="6.3" text-anchor="middle" fill="#111">2</text>
<text x="301.56" y="263.1" font-size="6.3" text-anchor="middle" fill="#111">3</text>
<text x="330.34" y="263.1" font-size="6.3" text-anchor="middle" fill="#111">4</text>
<text x="359.12" y="263.1" font-size="6.3" text-anchor="middle" fill="#111">5</text>
<text x="387.9" y="263.1" font-size="6.3" text-anchor="middle" fill="#111">6</text>
<text x="416.68" y="263.1" font-size="6.3" text-anchor="middle" fill="#111">7</text>
<text x="445.46" y="263.1" font-size="6.3" text-anchor="middle" fill="#111">8</text>
<text x="337.4" y="169.3" font-size="7.6" text-anchor="middle" fill="#000" stroke="#000" stroke-width="0.12">Lt. biceps femoris</text>
<path d="M243.7 216.3C248.5 217.25 262.89 218.73 272.48 222C282.07 225.27 291.67 232.47 301.26 235.9C310.85 239.33 320.45 241.08 330.04 242.6C339.63 244.12 349.23 246.12 358.82 245C368.41 243.88 378.01 238.42 387.6 235.9C397.19 233.38 406.79 232.3 416.38 229.9C425.97 227.5 440.36 222.9 445.16 221.5" fill="none" stroke="#ED7D31" stroke-width="1.35" stroke-opacity="0.95"/>
<path d="M243.7 228.7C248.5 229.5 262.89 231.7 272.48 233.5C282.07 235.3 291.67 237.5 301.26 239.5C310.85 241.5 320.45 244.18 330.04 245.5C339.63 246.82 349.23 247.6 358.82 247.4C368.41 247.2 378.01 246.82 387.6 244.3C397.19 241.78 406.79 234.98 416.38 232.3C425.97 229.62 440.36 228.88 445.16 228.2" fill="none" stroke="#4472C4" stroke-width="1.05" stroke-dasharray="1.5 0.8" stroke-opacity="0.95"/>
<text x="249.4" y="212.1" class="dl" fill="#8C4616" stroke="#8C4616">4.71</text>
<text x="272.6" y="221.2" class="dl" fill="#8C4616" stroke="#8C4616">3.71</text>
<text x="300.8" y="233.9" class="dl" fill="#8C4616" stroke="#8C4616">2.01</text>
<text x="330" y="240.4" class="dl" fill="#8C4616" stroke="#8C4616">1.27</text>
<text x="359.1" y="241.6" class="dl" fill="#8C4616" stroke="#8C4616">1.12</text>
<text x="387.1" y="232" class="dl" fill="#8C4616" stroke="#8C4616">2.32</text>
<text x="416.6" y="226" class="dl" fill="#8C4616" stroke="#8C4616">3.00</text>
<text x="444.5" y="218.1" class="dl" fill="#8C4616" stroke="#8C4616">4.10</text>
<text x="249.8" y="238" class="dl" fill="#2A4B8F" stroke="#2A4B8F">3.14</text>
<text x="272.6" y="242.8" class="dl" fill="#2A4B8F" stroke="#2A4B8F">2.39</text>
<text x="302" y="249.5" class="dl" fill="#2A4B8F" stroke="#2A4B8F">1.59</text>
<text x="331.2" y="253.1" class="dl" fill="#2A4B8F" stroke="#2A4B8F">0.83</text>
<text x="358.4" y="252.3" class="dl" fill="#2A4B8F" stroke="#2A4B8F">0.84</text>
<text x="387.8" y="251.9" class="dl" fill="#2A4B8F" stroke="#2A4B8F">1.31</text>
<text x="417" y="240.9" class="dl" fill="#2A4B8F" stroke="#2A4B8F">2.60</text>
<text x="444.5" y="235.6" class="dl" fill="#2A4B8F" stroke="#2A4B8F">3.34</text>
<text x="20.8" y="385.6" font-size="5" text-anchor="end" fill="#3a3a3a">0.0</text>
<text x="20.8" y="369.28" font-size="5" text-anchor="end" fill="#3a3a3a">2.0</text>
<text x="20.8" y="352.96" font-size="5" text-anchor="end" fill="#3a3a3a">4.0</text>
<text x="20.8" y="336.64" font-size="5" text-anchor="end" fill="#3a3a3a">6.0</text>
<text x="20.8" y="320.32" font-size="5" text-anchor="end" fill="#3a3a3a">8.0</text>
<text x="20.8" y="304" font-size="5" text-anchor="end" fill="#3a3a3a">10.0</text>
<text x="24.5" y="392.7" font-size="6.3" text-anchor="middle" fill="#111">1</text>
<text x="52.95" y="392.7" font-size="6.3" text-anchor="middle" fill="#111">2</text>
<text x="81.4" y="392.7" font-size="6.3" text-anchor="middle" fill="#111">3</text>
<text x="109.85" y="392.7" font-size="6.3" text-anchor="middle" fill="#111">4</text>
<text x="138.3" y="392.7" font-size="6.3" text-anchor="middle" fill="#111">5</text>
<text x="166.75" y="392.7" font-size="6.3" text-anchor="middle" fill="#111">6</text>
<text x="195.2" y="392.7" font-size="6.3" text-anchor="middle" fill="#111">7</text>
<text x="223.65" y="392.7" font-size="6.3" text-anchor="middle" fill="#111">8</text>
<text transform="translate(11.7 343.6) rotate(-90)" font-size="6.1" text-anchor="middle" fill="#222">EMG (mV.s)</text>
<text x="120.8" y="298.3" font-size="7.6" text-anchor="middle" fill="#000" stroke="#000" stroke-width="0.12">Rt. tibialis anterior</text>
<path d="M24.2 356.8C28.94 355.63 43.17 349.62 52.65 349.8C62.13 349.98 71.62 354.77 81.1 357.9C90.58 361.03 100.07 366.58 109.55 368.6C119.03 370.62 128.52 370.02 138 370C147.48 369.98 156.97 368.67 166.45 368.5C175.93 368.33 185.42 369.58 194.9 369C204.38 368.42 218.61 365.67 223.35 365" fill="none" stroke="#ED7D31" stroke-width="1.35" stroke-opacity="0.95"/>
<path d="M24.2 363.8C28.94 362.7 43.17 356.32 52.65 357.2C62.13 358.08 71.62 366.47 81.1 369.1C90.58 371.73 100.07 372.22 109.55 373C119.03 373.78 128.52 374.47 138 373.8C147.48 373.13 156.97 369.67 166.45 369C175.93 368.33 185.42 370.38 194.9 369.8C204.38 369.22 218.61 366.22 223.35 365.5" fill="none" stroke="#4472C4" stroke-width="1.05" stroke-dasharray="1.5 0.8" stroke-opacity="0.95"/>
<text x="30.7" y="356.8" class="dl" fill="#8C4616" stroke="#8C4616">3.25</text>
<text x="52" y="345.6" class="dl" fill="#8C4616" stroke="#8C4616">4.11</text>
<text x="79.8" y="355.2" class="dl" fill="#8C4616" stroke="#8C4616">2.85</text>
<text x="109.5" y="366.6" class="dl" fill="#8C4616" stroke="#8C4616">1.56</text>
<text x="136.7" y="365.2" class="dl" fill="#8C4616" stroke="#8C4616">1.74</text>
<text x="165.5" y="362.8" class="dl" fill="#8C4616" stroke="#8C4616">1.92</text>
<text x="193.4" y="365.6" class="dl" fill="#8C4616" stroke="#8C4616">1.80</text>
<text x="216.9" y="360.4" class="dl" fill="#8C4616" stroke="#8C4616">2.13</text>
<text x="28" y="372.8" class="dl" fill="#2A4B8F" stroke="#2A4B8F">2.29</text>
<text x="51.5" y="369.4" class="dl" fill="#2A4B8F" stroke="#2A4B8F">3.13</text>
<text x="81.6" y="378.5" class="dl" fill="#2A4B8F" stroke="#2A4B8F">1.69</text>
<text x="110.2" y="382.6" class="dl" fill="#2A4B8F" stroke="#2A4B8F">1.19</text>
<text x="137.9" y="382.6" class="dl" fill="#2A4B8F" stroke="#2A4B8F">1.12</text>
<text x="166.2" y="377.8" class="dl" fill="#2A4B8F" stroke="#2A4B8F">1.79</text>
<text x="194.6" y="379.1" class="dl" fill="#2A4B8F" stroke="#2A4B8F">1.62</text>
<text x="223.3" y="374.3" class="dl" fill="#2A4B8F" stroke="#2A4B8F">2.13</text>
<text x="240.2" y="385.7" font-size="5" text-anchor="end" fill="#3a3a3a">0.0</text>
<text x="240.2" y="369.38" font-size="5" text-anchor="end" fill="#3a3a3a">2.0</text>
<text x="240.2" y="353.06" font-size="5" text-anchor="end" fill="#3a3a3a">4.0</text>
<text x="240.2" y="336.74" font-size="5" text-anchor="end" fill="#3a3a3a">6.0</text>
<text x="240.2" y="320.42" font-size="5" text-anchor="end" fill="#3a3a3a">8.0</text>
<text x="240.2" y="304.1" font-size="5" text-anchor="end" fill="#3a3a3a">10.0</text>
<text x="243.9" y="392.8" font-size="6.3" text-anchor="middle" fill="#111">1</text>
<text x="272.75" y="392.8" font-size="6.3" text-anchor="middle" fill="#111">2</text>
<text x="301.6" y="392.8" font-size="6.3" text-anchor="middle" fill="#111">3</text>
<text x="330.45" y="392.8" font-size="6.3" text-anchor="middle" fill="#111">4</text>
<text x="359.3" y="392.8" font-size="6.3" text-anchor="middle" fill="#111">5</text>
<text x="388.15" y="392.8" font-size="6.3" text-anchor="middle" fill="#111">6</text>
<text x="417" y="392.8" font-size="6.3" text-anchor="middle" fill="#111">7</text>
<text x="445.85" y="392.8" font-size="6.3" text-anchor="middle" fill="#111">8</text>
<text x="337" y="298.3" font-size="7.6" text-anchor="middle" fill="#000" stroke="#000" stroke-width="0.12">Lt. tibialis anterior</text>
<path d="M243.6 357.1C247.93 355.47 259.95 346.9 269.56 347.3C279.18 347.7 291.2 355.55 301.3 359.5C311.4 363.45 320.53 370.4 330.15 371C339.77 371.6 349.38 363.35 359 363.1C368.62 362.85 378.23 368.72 387.85 369.5C397.47 370.28 407.08 368.8 416.7 367.8C426.32 366.8 440.74 364.22 445.55 363.5" fill="none" stroke="#ED7D31" stroke-width="1.35" stroke-opacity="0.95"/>
<path d="M243.6 364.3C248.41 362.9 262.83 355.7 272.45 355.9C282.07 356.1 291.68 362.52 301.3 365.5C310.92 368.48 320.53 373.53 330.15 373.8C339.77 374.07 349.38 367.5 359 367.1C368.62 366.7 378.23 370.68 387.85 371.4C397.47 372.12 407.08 372 416.7 371.4C426.32 370.8 440.74 368.4 445.55 367.8" fill="none" stroke="#4472C4" stroke-width="1.05" stroke-dasharray="1.5 0.8" stroke-opacity="0.95"/>
<text x="247.4" y="357.3" class="dl" fill="#8C4616" stroke="#8C4616">3.02</text>
<text x="273.3" y="343.1" class="dl" fill="#8C4616" stroke="#8C4616">4.46</text>
<text x="300.1" y="356.8" class="dl" fill="#8C4616" stroke="#8C4616">2.75</text>
<text x="330" y="367.6" class="dl" fill="#8C4616" stroke="#8C4616">1.37</text>
<text x="357.9" y="359.7" class="dl" fill="#8C4616" stroke="#8C4616">2.48</text>
<text x="387.1" y="365.6" class="dl" fill="#8C4616" stroke="#8C4616">1.61</text>
<text x="415.4" y="364" class="dl" fill="#8C4616" stroke="#8C4616">1.99</text>
<text x="443.3" y="359.7" class="dl" fill="#8C4616" stroke="#8C4616">2.44</text>
<text x="247.4" y="373.5" class="dl" fill="#2A4B8F" stroke="#2A4B8F">2.22</text>
<text x="270.9" y="366.4" class="dl" fill="#2A4B8F" stroke="#2A4B8F">3.41</text>
<text x="301.3" y="376.6" class="dl" fill="#2A4B8F" stroke="#2A4B8F">1.93</text>
<text x="330" y="381.4" class="dl" fill="#2A4B8F" stroke="#2A4B8F">1.11</text>
<text x="359.1" y="375.9" class="dl" fill="#2A4B8F" stroke="#2A4B8F">1.98</text>
<text x="387.8" y="380.7" class="dl" fill="#2A4B8F" stroke="#2A4B8F">1.35</text>
<text x="416.6" y="381.9" class="dl" fill="#2A4B8F" stroke="#2A4B8F">1.25</text>
<text x="444.5" y="376.6" class="dl" fill="#2A4B8F" stroke="#2A4B8F">1.91</text>
<text x="20.7" y="519.7" font-size="5" text-anchor="end" fill="#3a3a3a">0.0</text>
<text x="20.7" y="503.04" font-size="5" text-anchor="end" fill="#3a3a3a">2.0</text>
<text x="20.7" y="486.38" font-size="5" text-anchor="end" fill="#3a3a3a">4.0</text>
<text x="20.7" y="469.72" font-size="5" text-anchor="end" fill="#3a3a3a">6.0</text>
<text x="20.7" y="453.06" font-size="5" text-anchor="end" fill="#3a3a3a">8.0</text>
<text x="20.7" y="436.4" font-size="5" text-anchor="end" fill="#3a3a3a">10.0</text>
<text x="24.4" y="527.3" font-size="6.3" text-anchor="middle" fill="#111">1</text>
<text x="52.87" y="527.3" font-size="6.3" text-anchor="middle" fill="#111">2</text>
<text x="81.34" y="527.3" font-size="6.3" text-anchor="middle" fill="#111">3</text>
<text x="109.81" y="527.3" font-size="6.3" text-anchor="middle" fill="#111">4</text>
<text x="138.28" y="527.3" font-size="6.3" text-anchor="middle" fill="#111">5</text>
<text x="166.75" y="527.3" font-size="6.3" text-anchor="middle" fill="#111">6</text>
<text x="195.22" y="527.3" font-size="6.3" text-anchor="middle" fill="#111">7</text>
<text x="223.69" y="527.3" font-size="6.3" text-anchor="middle" fill="#111">8</text>
<text transform="translate(11.7 475.5) rotate(-90)" font-size="6.1" text-anchor="middle" fill="#222">EMG (mV.s)</text>
<text x="120.6" y="426.9" font-size="7.6" text-anchor="middle" fill="#000" stroke="#000" stroke-width="0.12">Rt. gastrocnemius medialis</text>
<text x="122.8" y="541.5" font-size="7.0" text-anchor="middle" fill="#1a1a1a" stroke="#1a1a1a" stroke-width="0.06">Gait cycle</text>
<path d="M24.1 508.6C28.85 508.5 43.08 511.35 52.57 508C62.06 504.65 71.55 491.37 81.04 488.5C90.53 485.63 100.02 487.38 109.51 490.8C119 494.22 128.49 505.83 137.98 509C147.47 512.17 156.96 509.72 166.45 509.8C175.94 509.88 185.43 509.35 194.92 509.5C204.41 509.65 218.64 510.5 223.39 510.7" fill="none" stroke="#ED7D31" stroke-width="1.35" stroke-opacity="0.95"/>
<path d="M24.1 512.1C28.85 511.87 43.08 512.83 52.57 510.7C62.06 508.57 71.55 500.33 81.04 499.3C90.53 498.27 100.02 502.68 109.51 504.5C119 506.32 128.49 509.25 137.98 510.2C147.47 511.15 156.96 510.27 166.45 510.2C175.94 510.13 185.43 509.72 194.92 509.8C204.41 509.88 218.64 510.55 223.39 510.7" fill="none" stroke="#4472C4" stroke-width="1.05" stroke-dasharray="1.5 0.8" stroke-opacity="0.95"/>
<text x="28.7" y="505" class="dl" fill="#8C4616" stroke="#8C4616">1.10</text>
<text x="51.5" y="502.7" class="dl" fill="#8C4616" stroke="#8C4616">1.35</text>
<text x="84.4" y="484.9" class="dl" fill="#8C4616" stroke="#8C4616">3.59</text>
<text x="109.5" y="486.5" class="dl" fill="#8C4616" stroke="#8C4616">3.20</text>
<text x="136.7" y="505.9" class="dl" fill="#8C4616" stroke="#8C4616">1.03</text>
<text x="165.5" y="504.7" class="dl" fill="#8C4616" stroke="#8C4616">1.02</text>
<text x="193.7" y="505.9" class="dl" fill="#8C4616" stroke="#8C4616">1.06</text>
<text x="218.6" y="505.9" class="dl" fill="#8C4616" stroke="#8C4616">0.88</text>
<text x="29.6" y="517.6" class="dl" fill="#2A4B8F" stroke="#2A4B8F">0.61</text>
<text x="52" y="516.4" class="dl" fill="#2A4B8F" stroke="#2A4B8F">1.07</text>
<text x="81.2" y="508.4" class="dl" fill="#2A4B8F" stroke="#2A4B8F">2.22</text>
<text x="109.5" y="512.8" class="dl" fill="#2A4B8F" stroke="#2A4B8F">1.68</text>
<text x="139.6" y="516.6" class="dl" fill="#2A4B8F" stroke="#2A4B8F">0.73</text>
<text x="166.7" y="517.1" class="dl" fill="#2A4B8F" stroke="#2A4B8F">0.87</text>
<text x="194.6" y="517.1" class="dl" fill="#2A4B8F" stroke="#2A4B8F">0.95</text>
<text x="221.7" y="517.8" class="dl" fill="#2A4B8F" stroke="#2A4B8F">0.83</text>
<text x="242.7" y="519.8" font-size="5" text-anchor="end" fill="#3a3a3a">0.0</text>
<text x="242.7" y="502.9" font-size="5" text-anchor="end" fill="#3a3a3a">2.0</text>
<text x="242.7" y="486" font-size="5" text-anchor="end" fill="#3a3a3a">4.0</text>
<text x="242.7" y="469.1" font-size="5" text-anchor="end" fill="#3a3a3a">6.0</text>
<text x="242.7" y="452.2" font-size="5" text-anchor="end" fill="#3a3a3a">8.0</text>
<text x="242.7" y="435.3" font-size="5" text-anchor="end" fill="#3a3a3a">10.0</text>
<text x="246.4" y="527.4" font-size="6.3" text-anchor="middle" fill="#111">1</text>
<text x="274.85" y="527.4" font-size="6.3" text-anchor="middle" fill="#111">2</text>
<text x="303.3" y="527.4" font-size="6.3" text-anchor="middle" fill="#111">3</text>
<text x="331.75" y="527.4" font-size="6.3" text-anchor="middle" fill="#111">4</text>
<text x="360.2" y="527.4" font-size="6.3" text-anchor="middle" fill="#111">5</text>
<text x="388.65" y="527.4" font-size="6.3" text-anchor="middle" fill="#111">6</text>
<text x="417.1" y="527.4" font-size="6.3" text-anchor="middle" fill="#111">7</text>
<text x="445.55" y="527.4" font-size="6.3" text-anchor="middle" fill="#111">8</text>
<text x="337.2" y="426.1" font-size="7.6" text-anchor="middle" fill="#000" stroke="#000" stroke-width="0.12">Lt. gastrocnemius medialis</text>
<text x="343.5" y="541.5" font-size="7.0" text-anchor="middle" fill="#1a1a1a" stroke="#1a1a1a" stroke-width="0.06">Gait cycle</text>
<path d="M246.1 504.7C250.84 503.63 265.07 500.88 274.55 498.3C284.03 495.72 293.52 490.28 303 489.2C312.48 488.12 321.97 488.17 331.45 491.8C340.93 495.43 350.42 508 359.9 511C369.38 514 378.87 510.33 388.35 509.8C397.83 509.27 407.32 507.85 416.8 507.8C426.28 507.75 440.51 509.22 445.25 509.5" fill="none" stroke="#ED7D31" stroke-width="1.35" stroke-opacity="0.95"/>
<path d="M246.1 511C250.84 510.87 265.07 512.4 274.55 510.2C284.03 508 293.52 499.07 303 497.8C312.48 496.53 321.97 500.4 331.45 502.6C340.93 504.8 350.42 509.6 359.9 511C369.38 512.4 378.87 511.6 388.35 511C397.83 510.4 407.32 507.73 416.8 507.4C426.28 507.07 440.51 508.73 445.25 509" fill="none" stroke="#4472C4" stroke-width="1.05" stroke-dasharray="1.5 0.8" stroke-opacity="0.95"/>
<text x="252.9" y="500.4" class="dl" fill="#8C4616" stroke="#8C4616">1.51</text>
<text x="274.5" y="494.4" class="dl" fill="#8C4616" stroke="#8C4616">2.32</text>
<text x="303.2" y="485.5" class="dl" fill="#8C4616" stroke="#8C4616">3.37</text>
<text x="331.9" y="488.4" class="dl" fill="#8C4616" stroke="#8C4616">3.09</text>
<text x="359.6" y="506.8" class="dl" fill="#8C4616" stroke="#8C4616">0.86</text>
<text x="388.6" y="505.9" class="dl" fill="#8C4616" stroke="#8C4616">1.02</text>
<text x="419" y="515.9" class="dl" fill="#8C4616" stroke="#8C4616">1.14</text>
<text x="442.9" y="516.6" class="dl" fill="#8C4616" stroke="#8C4616">0.92</text>
<text x="250.6" y="517.6" class="dl" fill="#2A4B8F" stroke="#2A4B8F">0.81</text>
<text x="274.5" y="517.6" class="dl" fill="#2A4B8F" stroke="#2A4B8F">0.95</text>
<text x="303.2" y="507.1" class="dl" fill="#2A4B8F" stroke="#2A4B8F">2.30</text>
<text x="331.9" y="509.5" class="dl" fill="#2A4B8F" stroke="#2A4B8F">2.03</text>
<text x="361.5" y="518.3" class="dl" fill="#2A4B8F" stroke="#2A4B8F">0.71</text>
<text x="389.8" y="517.8" class="dl" fill="#2A4B8F" stroke="#2A4B8F">0.73</text>
<text x="419" y="504.7" class="dl" fill="#2A4B8F" stroke="#2A4B8F">1.25</text>
<text x="444.5" y="506.8" class="dl" fill="#2A4B8F" stroke="#2A4B8F">1.06</text></g>
</svg></body></html>
